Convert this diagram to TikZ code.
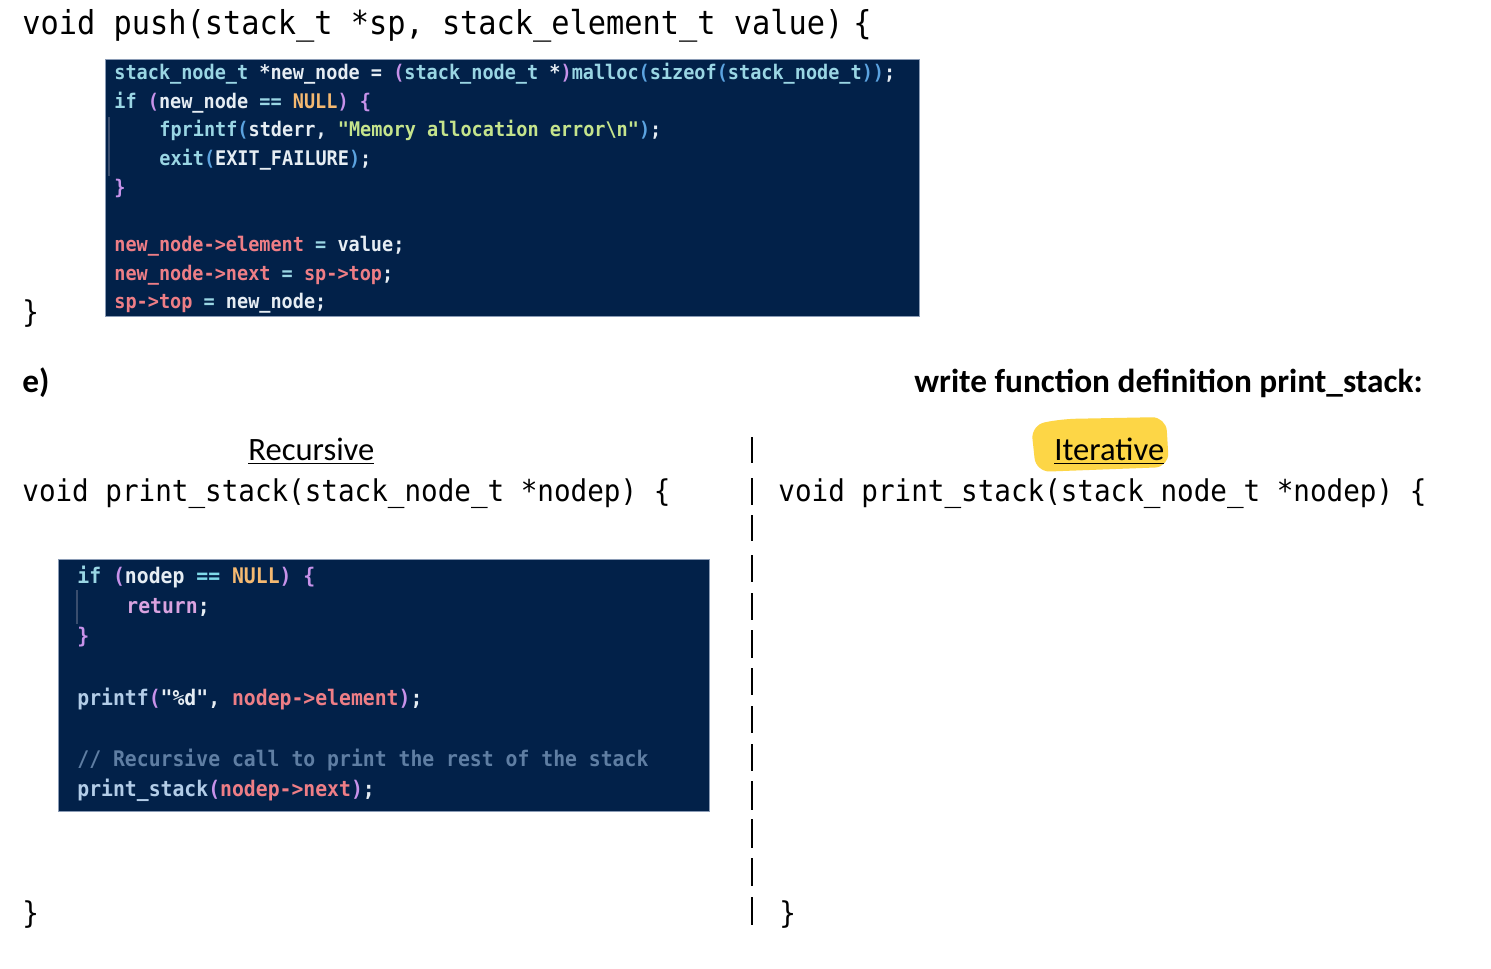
\documentclass[tikz,border=0pt]{standalone}
\usepackage{fontspec}
\setmainfont{Carlito}
\setmonofont{DejaVu Sans Mono}[FakeStretch=0.92]
\definecolor{cbg}{HTML}{022149}
\definecolor{cedge}{HTML}{8A9BB5}
\definecolor{cw}{HTML}{E6EDF3}
\definecolor{cq}{HTML}{9AD6E4}
\definecolor{cp}{HTML}{C792EA}
\definecolor{cb}{HTML}{5BA3E0}
\definecolor{cn}{HTML}{F5B971}
\definecolor{cs}{HTML}{C5E48C}
\definecolor{cr}{HTML}{EE7E86}
\definecolor{cc}{HTML}{5F7EA3}
\definecolor{cret}{HTML}{D9A3E0}
\definecolor{ce}{HTML}{7FDBEA}
\definecolor{cf}{HTML}{B3CDE8}
\definecolor{cguide}{HTML}{3A4E6E}
\definecolor{hl}{HTML}{FDD646}
\newcommand\Cq[1]{\textcolor{cq}{#1}}
\newcommand\Cp[1]{\textcolor{cp}{#1}}
\newcommand\Cb[1]{\textcolor{cb}{#1}}
\newcommand\Cn[1]{\textcolor{cn}{#1}}
\newcommand\Cs[1]{\textcolor{cs}{#1}}
\newcommand\Cr[1]{\textcolor{cr}{#1}}
\newcommand\Cc[1]{\textcolor{cc}{#1}}
\newcommand\Cret[1]{\textcolor{cret}{#1}}
\newcommand\Ce[1]{\textcolor{ce}{#1}}
\newcommand\Cf[1]{\textcolor{cf}{#1}}
\tikzset{
  codeA/.style={anchor=base west, inner sep=0pt, text=cw, font=\ttfamily\bfseries\fontsize{10.07}{12}\selectfont},
  codeB/.style={anchor=base west, inner sep=0pt, text=cw, font=\ttfamily\bfseries\fontsize{10.74}{12}\selectfont},
  monoBig/.style={anchor=base west, inner sep=0pt, font=\ttfamily\fontsize{16.47}{18}\selectfont},
  monoMid/.style={anchor=base west, inner sep=0pt, font=\ttfamily\fontsize{15}{17}\selectfont},
  head/.style={anchor=base west, inner sep=0pt, font=\fontsize{16.3}{18}\selectfont},
  headb/.style={anchor=base west, inner sep=0pt, font=\bfseries\fontsize{16.65}{18}\selectfont},
  codebox/.style={fill=cbg, draw=cedge, line width=0.5pt},
  guide/.style={draw=cguide, line width=1pt},
  pipe/.style={line width=1.1pt, black}
}
\begin{document}
\begin{tikzpicture}[x=0.5pt,y=-0.5pt]
\useasboundingbox (0,0) rectangle (1491,968);
\fill[white] (0,0) rectangle (1491,968);

% push function
\node[monoBig] (pushhead) at (22,35) {void push(stack\_t *sp, stack\_element\_t value)\kern-0.25em\ \{};
\fill[codebox] (105,60) rectangle (919,316);
\draw[guide] (109,117) -- (109,176);
\node[codeA] (a1) at (114,80) {\Cq{stack\_node\_t} *new\_node = \Cp{(}\Cq{stack\_node\_t} *\Cp{)}\Cq{malloc}\Cb{(}\Cq{sizeof}\Cb{(}\Cq{stack\_node\_t}\Cb{))};};
\node[codeA] (a2) at (114,109) {\Cq{if} \Cp{(}new\_node \Cq{==} \Cn{NULL}\Cp{)} \Cp{\{}};
\node[codeA] (a3) at (159,137) {\Cq{fprintf}\Cb{(}stderr, \Cs{"Memory allocation error\textbackslash n"}\Cb{)};};
\node[codeA] (a4) at (159,166) {\Cq{exit}\Cb{(}EXIT\_FAILURE\Cb{)};};
\node[codeA] (a5) at (114,194) {\Cp{\}}};
\node[codeA] (a6) at (114,251) {\Cr{new\_node->element} \Cq{=} value;};
\node[codeA] (a7) at (114,280) {\Cr{new\_node->next} \Cq{=} \Cr{sp->top};};
\node[codeA] (a8) at (114,308) {\Cr{sp->top} \Cq{=} new\_node;};
\node[monoMid] (pushend) at (22,322) {\}};

% part e
\node[headb] (elabel) at (22,392) {e)};
\node[headb] (task) at (914,392) {write function definition print\_stack:};

\fill[hl, rounded corners=7pt] (1031,425) -- (1062,419) -- (1166,417) -- (1169,467) -- (1036,472) -- cycle;
\node[head] (rec) at (248,460) {\underline{Recursive}};
\node[head] (ite) at (1054,460) {\underline{Iterative}};

\node[monoMid] (recsig) at (22,501) {void print\_stack(stack\_node\_t *nodep) \{};
\node[monoMid] (itesig) at (778,501) {void print\_stack(stack\_node\_t *nodep) \{};

\fill[codebox] (58,559) rectangle (709,811);
\draw[guide] (77,590) -- (77,624);
\node[codeB] (b1) at (77,583) {\Cq{if} \Cp{(}nodep \Ce{==} \Cn{NULL}\Cp{)} \Cp{\{}};
\node[codeB] (b2) at (126,613) {\Cret{return};};
\node[codeB] (b3) at (77,643) {\Cp{\}}};
\node[codeB] (b4) at (77,705) {\Cf{printf}\Cp{(}"\%d", \Cr{nodep->element}\Cp{)};};
\node[codeB] (b5) at (77,766) {\Cc{// Recursive call to print the rest of the stack}};
\node[codeB] (b6) at (77,796) {\Cf{print\_stack}\Cp{(}\Cr{nodep->next}\Cp{)};};

\node[monoMid] (recend) at (22,923) {\}};
\node[monoMid] (iteend) at (779,923) {\}};

% divider made of bars
\foreach \t/\b in {437/463,478/505,515/541,555/582,593/620,630/658,668/695,706/733,744/771,781/810,819/848,858/886,897/925}
  \draw[pipe] (752,\t) -- (752,\b);
\end{tikzpicture}
\end{document}
